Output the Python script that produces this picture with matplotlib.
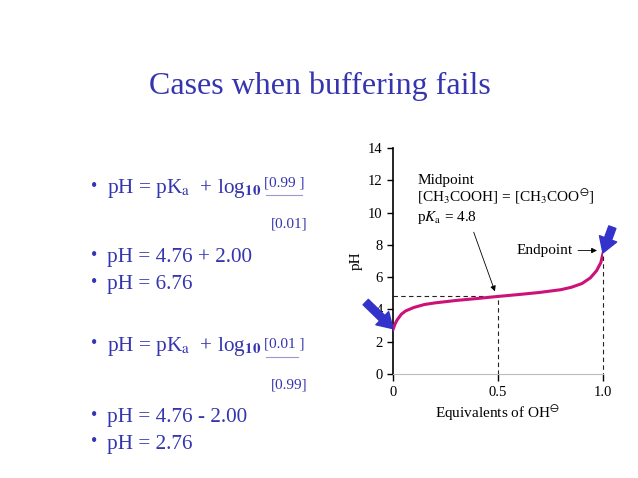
import numpy as np
import matplotlib.pyplot as plt

plt.rcParams['font.family'] = ['Liberation Serif', 'DejaVu Serif']
plt.rcParams['mathtext.fontset'] = 'stix'

# titration curve
equiv = [0.0, 0.01, 0.02, 0.04, 0.06, 0.1, 0.15, 0.2, 0.3, 0.4, 0.5,
         0.6, 0.7, 0.8, 0.85, 0.9, 0.94, 0.97, 0.99, 1.0]
ph = [2.75, 3.1, 3.35, 3.7, 3.9, 4.12, 4.3, 4.4, 4.55, 4.67, 4.8,
      4.92, 5.05, 5.22, 5.37, 5.6, 5.95, 6.4, 6.9, 7.45]
yticks = [0, 2, 4, 6, 8, 10, 12, 14]
xticks = [0, 0.5, 1.0]
xticklabels = ['0', '0.5', '1.0']
pka = 4.8

blue = '#3535b0'
fig = plt.figure(figsize=(6.38, 4.78), dpi=100)

fig.text(0.502, 0.820, 'Cases when buffering fails', ha='center', va='center',
         fontsize=23, color=blue)

# baselines of the bullet lines
lines = [
    (0.596, r'pH = pK$_{\mathrm{a}}$  + log$_{\mathbf{10}}$'),
    (0.452, 'pH = 4.76 + 2.00'),
    (0.395, 'pH = 6.76'),
    (0.266, r'pH = pK$_{\mathrm{a}}$  + log$_{\mathbf{10}}$'),
    (0.117, 'pH = 4.76 - 2.00'),
    (0.061, 'pH = 2.76'),
]
for y, s in lines:
    fig.text(0.147, y + 0.005, '•', ha='center', va='baseline', fontsize=13, color=blue)
    fig.text(0.167, y, s, ha='left', va='baseline', fontsize=15.3, color=blue)

# the small fractions
fracs = [(0.609, 0.592, 0.525, '[0.99 ]', '[0.01]', 0.473),
         (0.274, 0.253, 0.188, '[0.01 ]', '[0.99]', 0.467)]
for ytop, yline, ybot, top, bot, xend in fracs:
    fig.text(0.414, ytop, top, ha='left', va='baseline', fontsize=11, color=blue)
    fig.text(0.425, ybot, bot, ha='left', va='baseline', fontsize=11, color=blue)
    fig.add_artist(plt.Line2D([0.417, xend], [yline, yline],
                              color='#9a9ad0', lw=0.8))

ax = fig.add_axes([0.616, 0.218, 0.329, 0.472])
ax.plot(equiv, ph, color='#cc1177', lw=2.2, zorder=3)
ax.plot([0, 0.5, 0.5], [pka, pka, 0], ls=(0, (4, 3)), color='#222222', lw=0.8)
ax.plot([1.0, 1.0], [7.3, 0], ls=(0, (4, 3)), color='#222222', lw=0.8, clip_on=False)

ax.set_xlim(0, 1.0)
ax.set_ylim(0, 14)
ax.set_yticks(yticks)
ax.set_xticks(xticks)
ax.set_xticklabels(xticklabels)
for s in ['top', 'right']:
    ax.spines[s].set_visible(False)
ax.spines['bottom'].set_color('#bbbbbb')
ax.spines['bottom'].set_linewidth(0.8)
ax.spines['left'].set_linewidth(1.2)
ax.tick_params(labelsize=10.5, length=4, width=1, direction='out')
ax.tick_params(axis='x', color='black', length=5)
ax.set_ylabel('pH', fontsize=11)
ax.set_xlabel(r'Equivalents of OH$^{\ominus}$', fontsize=11)
ax.patch.set_visible(False)

ax.text(0.115, 12.4, 'Midpoint\n[CH$_3$COOH] = [CH$_3$COO$^{\\ominus}$]\np$K_{\\mathrm{a}}$ = 4.8',
        fontsize=11, va='top', ha='left', linespacing=1.1)
ax.annotate('', xy=(0.49, 4.95), xytext=(0.38, 8.95),
            arrowprops=dict(arrowstyle='-|>', color='black', lw=0.6, mutation_scale=8))
ax.annotate('Endpoint', xy=(0.985, 7.65), xytext=(0.855, 7.65), va='center', ha='right',
            fontsize=11,
            arrowprops=dict(arrowstyle='-|>', color='black', lw=0.6, mutation_scale=8))

# blue pointer arrows
arrow = 'simple,head_width=1.1,head_length=0.9,tail_width=0.45'
ax.annotate('', xy=(0.0, 2.8), xytext=(-0.13, 4.45), annotation_clip=False,
            arrowprops=dict(arrowstyle=arrow, color='#3333cc', mutation_scale=12,
                            shrinkA=0, shrinkB=0))
ax.annotate('', xy=(1.0, 7.5), xytext=(1.045, 9.1), annotation_clip=False,
            arrowprops=dict(arrowstyle=arrow, color='#3333cc', mutation_scale=12,
                            shrinkA=0, shrinkB=0))

fig.savefig('out.png', dpi=100)
